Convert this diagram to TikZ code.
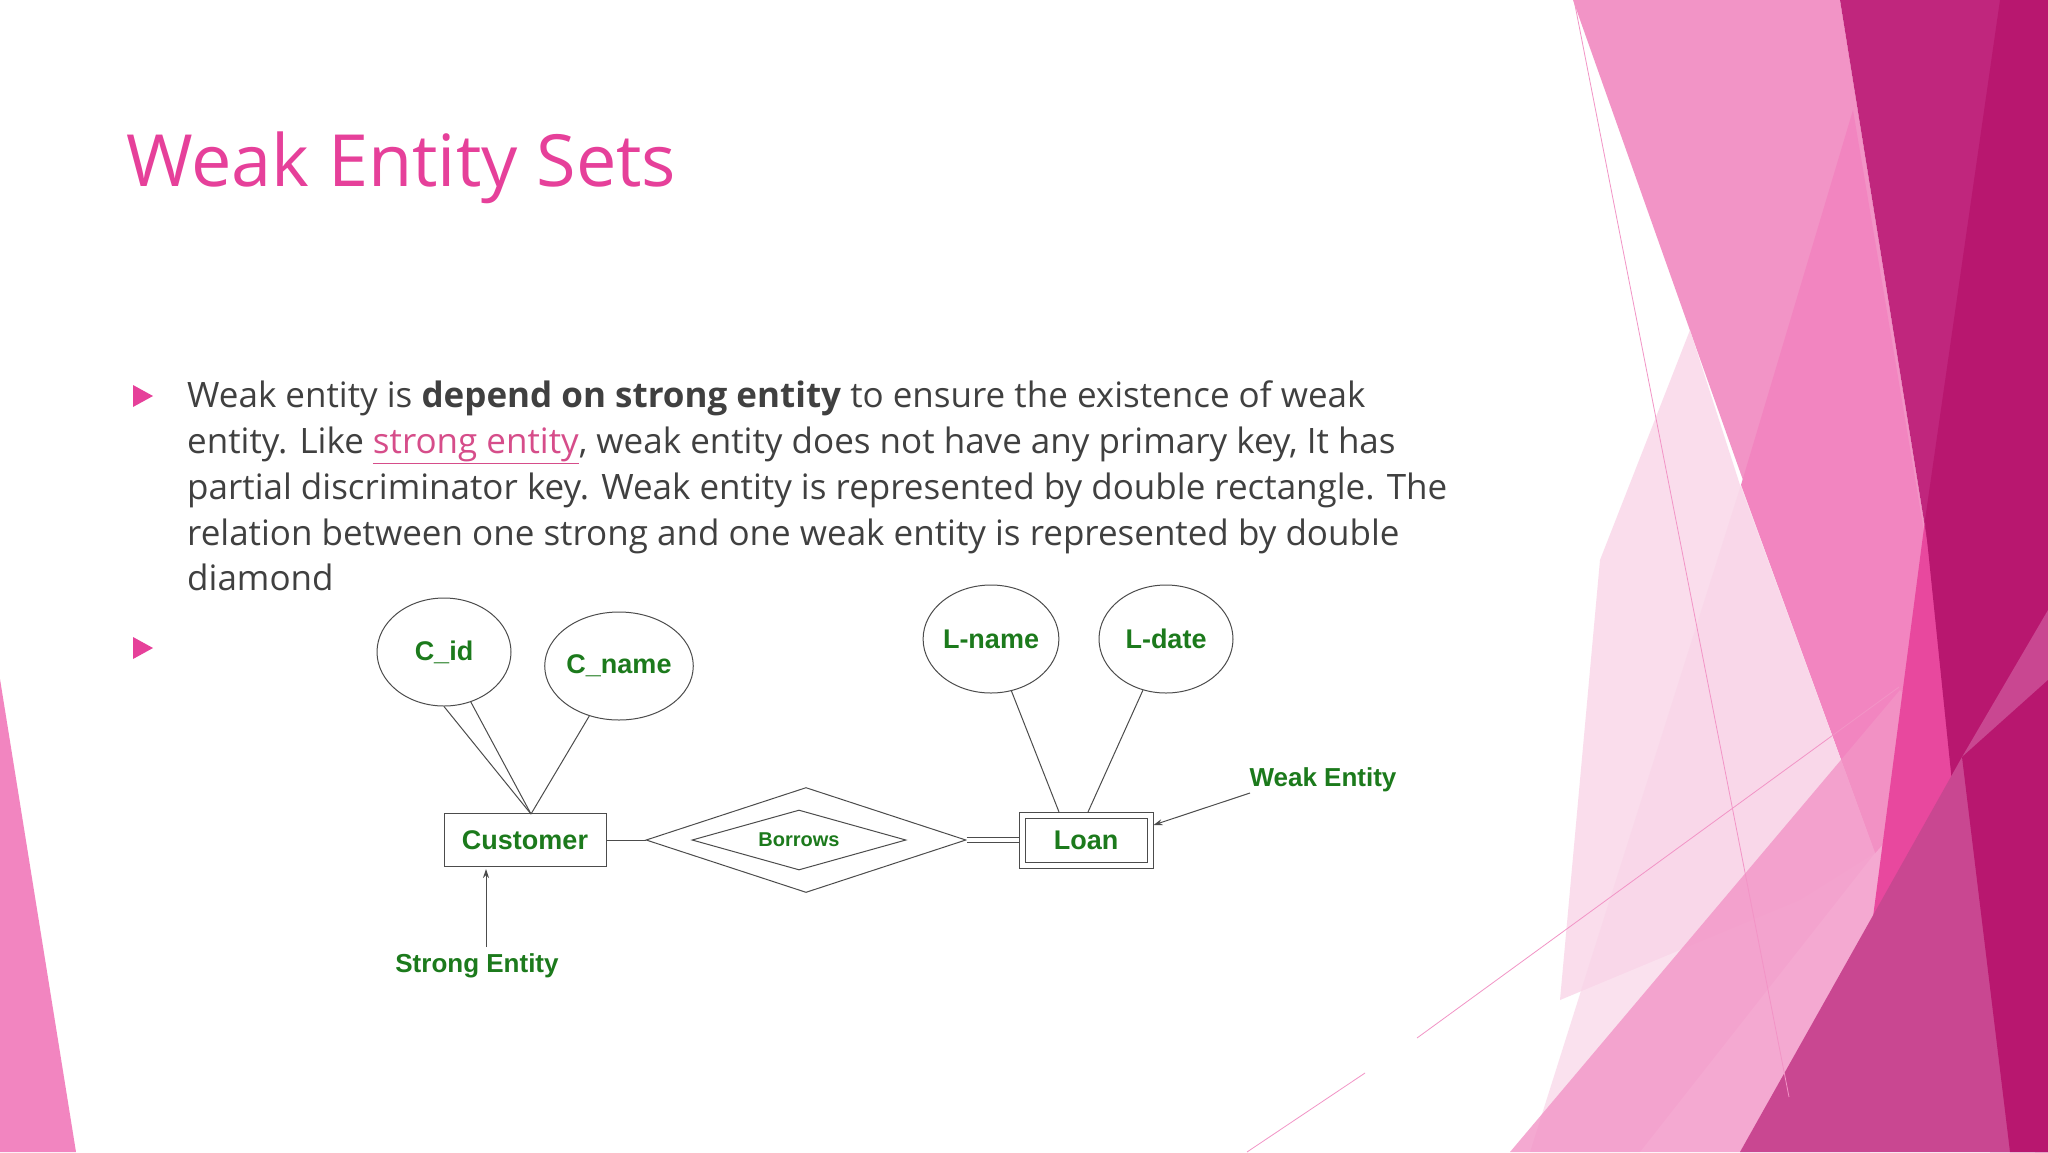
\documentclass[tikz,border=0pt]{standalone}
\usepackage{fontspec}
\setmainfont{Open Sans}
\newfontfamily\arialf{Liberation Sans}
\usetikzlibrary{shapes.geometric,arrows.meta}
\definecolor{titlepink}{HTML}{E6409A}
\definecolor{bodygray}{HTML}{404040}
\definecolor{linkpink}{HTML}{D64D8A}
\definecolor{ergreen}{HTML}{1C7A1C}
\definecolor{p1}{HTML}{F294C6}
\definecolor{p2}{HTML}{F285C0}
\definecolor{p3}{HTML}{C0267D}
\definecolor{p4}{HTML}{B8176F}
\definecolor{p5}{HTML}{E8489E}
\definecolor{p6}{HTML}{F9D5E8}
\begin{document}
\begin{tikzpicture}[x=1pt,y=-1pt,
  attr/.style={draw=black!70,ellipse,minimum width=134pt,minimum height=108pt,inner sep=0pt,line width=1pt,font=\arialf\bfseries\fontsize{27}{27}\selectfont,text=ergreen},
  ent/.style={draw=black!70,rectangle,line width=1pt,inner sep=0pt,font=\arialf\bfseries\fontsize{27}{27}\selectfont,text=ergreen},
  lbl/.style={font=\arialf\bfseries\fontsize{26}{26}\selectfont,text=ergreen},
  conn/.style={draw=black!70,line width=1pt},
  bodyline/.style={anchor=base west,inner sep=0pt,font=\fontsize{35}{35}\selectfont,text=bodygray}]
\useasboundingbox (0,0) rectangle (2048,1152);
\fill[white] (0,0) rectangle (2048,1152);
% decorative background
\fill[p1] (1573,0) -- (1840,0) -- (1962,757) -- (1875,853) -- cycle;
\fill[p2] (1853,110) -- (1741,485) -- (1875,853) -- (1962,757) -- cycle;
\fill[p6,opacity=0.8] (1690,330) -- (1740,485) -- (1875,853) -- (1800,900) -- (1560,1000) -- (1600,560) -- cycle;
\fill[p6,opacity=0.7] (1741,485) -- (1530,1152) -- (1640,1152) -- (1875,853) -- cycle;
\fill[p1,opacity=0.8] (1510,1152) -- (1900,690) -- (1962,757) -- (1870,1152) -- cycle;
\fill[p5] (1925,520) -- (1962,757) -- (1870,940) -- cycle;
\fill[p3] (1840,0) -- (2048,0) -- (2048,1152) -- (2035,1152) -- (1962,757) -- cycle;
\fill[p4] (2000,0) -- (2048,0) -- (2048,1152) -- (1990,1152) -- (1925,520) -- cycle;
\fill[p3!85!white] (1962,757) -- (2048,610) -- (2048,1152) -- (1740,1152) -- cycle;
\fill[p4] (1962,757) -- (2048,680) -- (2048,1152) -- (2010,1152) -- cycle;
\draw[p1,line width=0.8pt] (1574,0) -- (1789,1097);
\draw[p1,line width=0.8pt] (1417,1038) -- (1899,687);
\draw[p1,line width=0.8pt] (1247,1152) -- (1365,1073);
\fill[p2] (0,679) -- (76,1152) -- (0,1152) -- cycle;
% title
\node[anchor=base west,inner sep=0pt,text=titlepink,font=\fontsize{72}{72}\selectfont] (title) at (126,186) {Weak Entity Sets};
% bullets
\fill[titlepink] (133,385) -- (153,396) -- (133,407) -- cycle;
\fill[titlepink] (133,637) -- (153,648) -- (133,659) -- cycle;
\node[bodyline] (l1) at (187,407) {Weak entity is \textbf{depend on strong entity} to ensure the existence of weak};
\node[bodyline] (l2) at (187,453) {entity. Like {\color{linkpink}\underline{strong entity}}, weak entity does not have any primary key, It has};
\node[bodyline] (l3) at (187,499) {partial discriminator key. Weak entity is represented by double rectangle. The};
\node[bodyline] (l4) at (187,545) {relation between one strong and one weak entity is represented by double};
\node[bodyline] (l5) at (187,590) {diamond};
% ER diagram
\node[attr] (cid) at (444,652) {C\_id};
\node[attr] (cname) at (619,666) {C\_name};
\node[attr] (lname) at (991,639) {L-name};
\node[attr] (ldate) at (1166,639) {L-date};
\node[ent,minimum width=162pt,minimum height=53pt] (cust) at (525,840) {Customer};
\node[draw=black!70,line width=1pt,diamond,aspect=3.05,minimum width=320pt,minimum height=105pt,inner sep=0pt] (bor) at (806,840) {};
\node[draw=black!70,line width=1pt,diamond,aspect=3.5,minimum width=214pt,minimum height=60pt,inner sep=0pt,font=\arialf\bfseries\fontsize{20}{20}\selectfont,text=ergreen] (bori) at (799,840) {Borrows};
\node[ent,minimum width=134pt,minimum height=56pt] (loan) at (1086,840) {};
\node[ent,minimum width=122pt,minimum height=44pt] (loani) at (1086,840) {Loan};
\coordinate (cj) at (531,814);
\draw[conn] (cid.south) ++(0,0) -- (cj);
\draw[conn] (cid) -- (cj);
\draw[conn] (cname) -- (cj);
\draw[conn] (lname) -- (1059,812);
\draw[conn] (ldate) -- (1088,812);
\draw[conn] (cust.east) -- (bor.west);
\draw[conn,double,double distance=4pt,line width=0.8pt] (bor.east) -- (loan.west);
\node[lbl] (weak) at (1323,780) {Weak Entity};
\node[lbl] (strong) at (477,966) {Strong Entity};
\draw[conn,-{Stealth[length=9pt,width=6pt]}] (1250,793) -- (loan.east |- 0,825);
\draw[conn,-{Stealth[length=9pt,width=6pt]}] (486,947) -- (486,869);
\end{tikzpicture}
\end{document}
